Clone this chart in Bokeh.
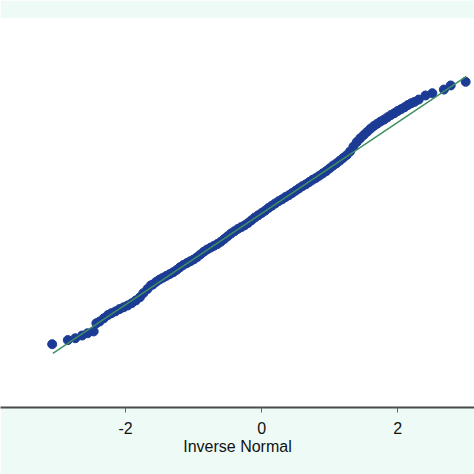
from bokeh.plotting import figure
from bokeh.models import Range1d, FixedTicker, CustomJSTickFormatter
from bokeh.embed import file_html
from bokeh.resources import INLINE

# Inverse normal quantiles (x) and observed standardized values (y)
inv_normal = [
    -3.08, -2.85, -2.74, -2.64, -2.56, -2.47, -2.43, -2.38, -2.32, -2.26,
    -2.21, -2.15, -2.09, -2.03, -1.97, -1.91, -1.85, -1.79, -1.74, -1.68,
    -1.63, -1.60, -1.55, -1.50, -1.45, -1.40, -1.35, -1.30, -1.25, -1.20,
    -1.15, -1.10, -1.05, -1.00, -0.95, -0.90, -0.85, -0.80, -0.75, -0.70,
    -0.65, -0.60, -0.55, -0.50, -0.45, -0.40, -0.35, -0.30, -0.25, -0.20,
    -0.15, -0.10, -0.05, 0.00, 0.05, 0.10, 0.15, 0.20, 0.25, 0.30,
    0.35, 0.40, 0.45, 0.50, 0.55, 0.60, 0.65, 0.70, 0.75, 0.80,
    0.85, 0.90, 0.95, 1.00, 1.05, 1.10, 1.15, 1.20, 1.25, 1.30,
    1.35, 1.40, 1.45, 1.50, 1.55, 1.60, 1.65, 1.70, 1.75, 1.80,
    1.85, 1.90, 1.95, 2.00, 2.05, 2.10, 2.15, 2.20, 2.25, 2.31,
    2.41, 2.51, 2.68, 2.78, 3.00,
]
observed = [
    -2.87, -2.78, -2.74, -2.68, -2.63, -2.59, -2.41, -2.37, -2.30, -2.23,
    -2.19, -2.15, -2.10, -2.06, -2.02, -1.97, -1.91, -1.84, -1.75, -1.66,
    -1.58, -1.56, -1.50, -1.45, -1.41, -1.37, -1.33, -1.29, -1.24, -1.18,
    -1.13, -1.09, -1.05, -1.01, -0.96, -0.90, -0.84, -0.79, -0.75, -0.71,
    -0.67, -0.62, -0.56, -0.50, -0.44, -0.39, -0.34, -0.30, -0.26, -0.21,
    -0.15, -0.09, -0.04, 0.01, 0.06, 0.12, 0.17, 0.22, 0.27, 0.31,
    0.36, 0.40, 0.45, 0.50, 0.55, 0.60, 0.64, 0.69, 0.74, 0.78,
    0.83, 0.88, 0.93, 0.99, 1.05, 1.10, 1.16, 1.22, 1.28, 1.36,
    1.47, 1.57, 1.65, 1.72, 1.79, 1.86, 1.92, 1.97, 2.02, 2.06,
    2.11, 2.16, 2.20, 2.25, 2.29, 2.33, 2.38, 2.42, 2.45, 2.50,
    2.59, 2.64, 2.72, 2.81, 2.89,
]
fit_intercept = 0.0
fit_slope = 1.0
x_ticks = [-2, 0, 2]
x_title = "Inverse Normal"

MINT = "#eefaf6"
FONT = "Liberation Sans"

p = figure(width=474, height=474, output_backend="svg", toolbar_location=None,
           x_range=Range1d(-3.84, 3.13), y_range=Range1d(-4.26, 4.28),
           y_axis_location=None, min_border_left=0, min_border_right=0,
           min_border_top=18, min_border_bottom=67)
p.border_fill_color = MINT
p.background_fill_color = "white"
p.outline_line_color = None
p.grid.visible = False

p.scatter(inv_normal, observed, size=9, marker="circle",
          fill_color="#1c3b94", line_color="#1c3b94")

fx = [min(inv_normal) + 0.01, max(inv_normal) + 0.01]
fy = [fit_intercept + fit_slope * v for v in fx]
p.line(fx, fy, line_color="#3f8f62", line_width=1.5)

ax = p.xaxis[0]
ax.ticker = FixedTicker(ticks=x_ticks)
ax.formatter = CustomJSTickFormatter(code="return tick.toString();")
ax.axis_label = x_title
ax.axis_line_color = "#4a4a4a"
ax.axis_line_width = 2
ax.major_tick_line_color = "#666666"
ax.major_tick_out = 5
ax.major_tick_in = 0
ax.minor_tick_line_color = None
ax.major_label_standoff = 9
ax.major_label_text_font = FONT
ax.major_label_text_font_size = "16px"
ax.major_label_text_color = "#111111"
ax.axis_label_text_font = FONT
ax.axis_label_text_font_size = "16px"
ax.axis_label_text_font_style = "normal"
ax.axis_label_text_color = "#111111"
ax.axis_label_standoff = 1

open("out.html", "w").write(file_html(p, INLINE))
